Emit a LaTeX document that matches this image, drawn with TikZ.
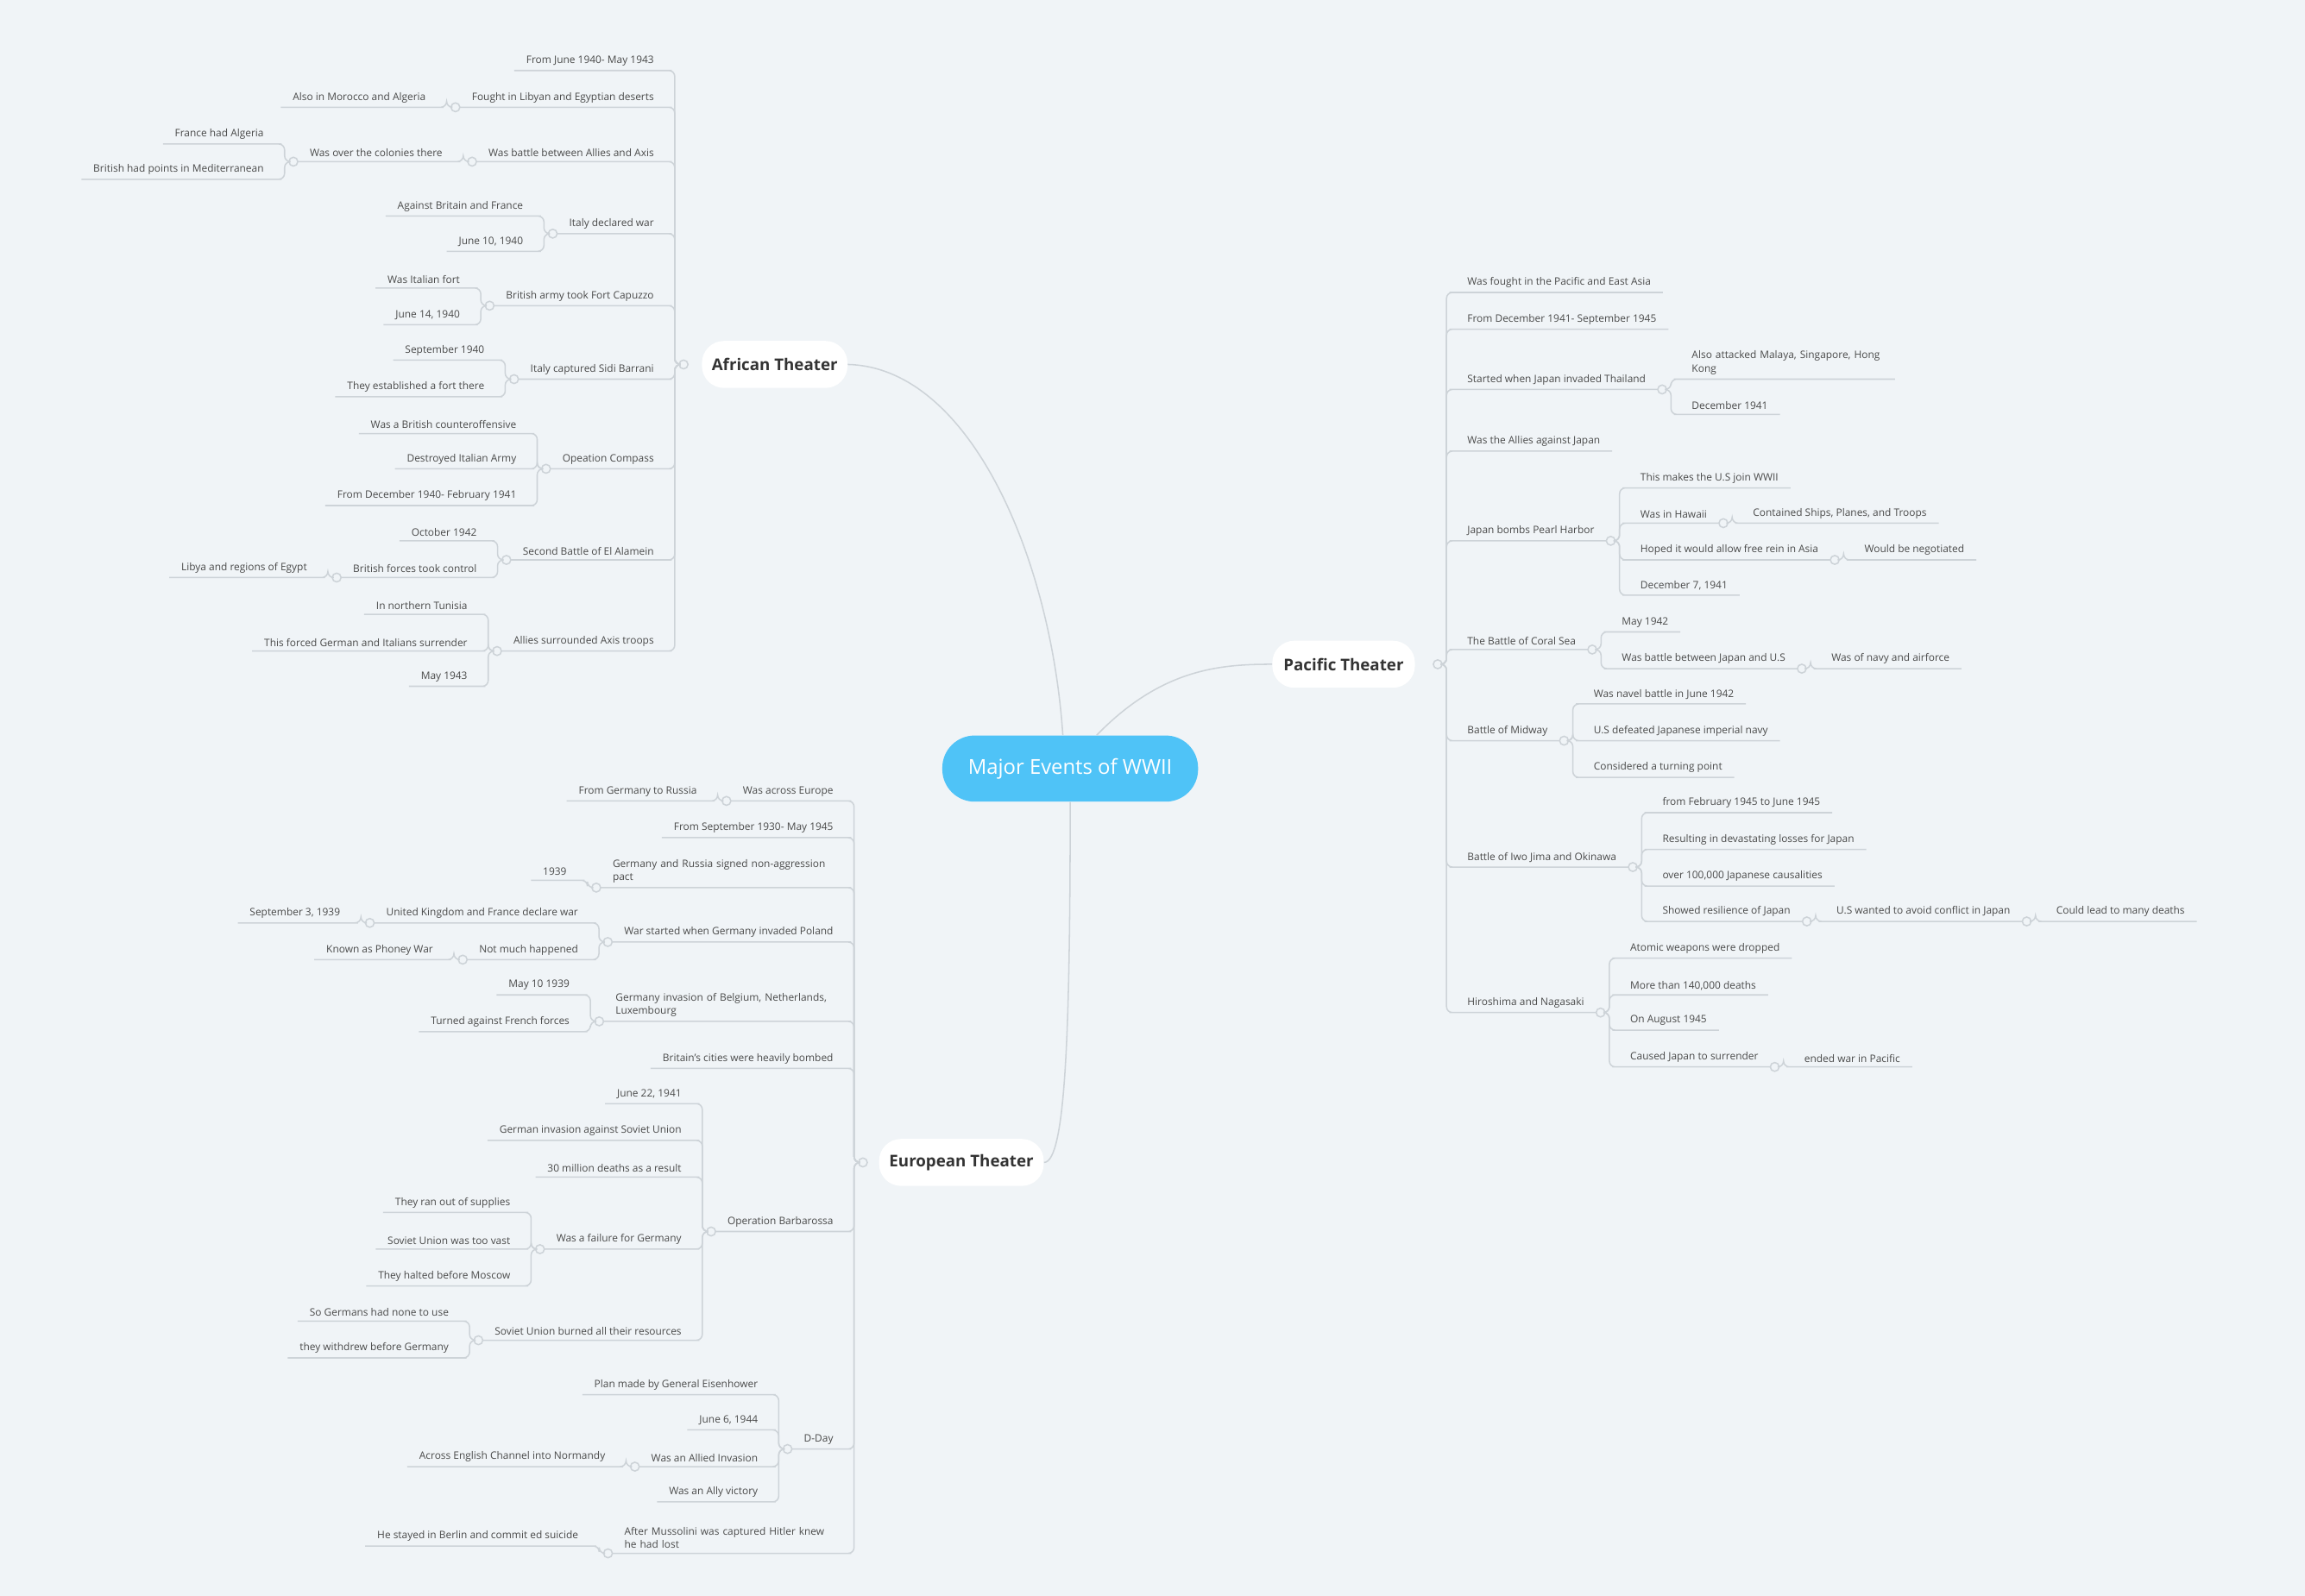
\documentclass[tikz,border=0pt]{standalone}
\usepackage{fontspec}
\setmainfont{Open Sans}
\definecolor{bgc}{HTML}{F0F4F7}
\definecolor{lnc}{HTML}{CDD3D8}
\definecolor{txc}{HTML}{4A4A4A}
\definecolor{rootblue}{HTML}{4FC3F7}
\tikzset{
 lt/.style={font=\fontsize{7}{9}\selectfont, text=txc, inner xsep=8pt, inner ysep=3pt},
 ln/.style={draw=lnc, line width=0.9pt},
 dot/.style={circle, draw=lnc, fill=bgc, line width=0.9pt, inner sep=0pt, minimum size=6pt},
 pill/.style={fill=white, rounded corners=15pt, font=\bfseries\fontsize{11}{13}\selectfont, text=black!80, minimum height=32pt},
 ml/.style={text width=#1, align=left}
}
\newcommand\LK[5][]{%
 \node[lt,anchor=south east,xshift=-12pt,#1] (#2) at (#3 |- 0,#4+10) {#5};
 \draw[ln,rounded corners=4pt] (#2.south west) -- (#2.south east) -- ++(6,0) |- (#3);}
\newcommand\RK[5][]{%
 \node[lt,anchor=south west,xshift=12pt,#1] (#2) at (#3 |- 0,#4+10) {#5};
 \draw[ln,rounded corners=4pt] (#2.south east) -- (#2.south west) -- ++(-6,0) |- (#3);}
\newcommand\LD[2]{\node[dot] (#2) at ([xshift=-3pt]#1.south west) {};}
\newcommand\RD[2]{\node[dot] (#2) at ([xshift=3pt]#1.south east) {};}
\begin{document}
\begin{tikzpicture}[x=1pt,y=-1pt]
\fill[bgc] (0,0) rectangle (1568,1086);
\useasboundingbox (0,0) rectangle (1568,1086);
\node[fill=rootblue, rounded corners=22pt, minimum width=174pt, minimum height=45pt, text=white, font=\fontsize{14}{16}\selectfont] (root) at (728,523) {Major Events of WWII};
\node[pill, minimum width=99pt] (af) at (527,248) {African Theater};
\node[pill, minimum width=97pt] (pac) at (914,452) {Pacific Theater};
\node[pill, minimum width=112pt] (eu) at (654,791) {European Theater};
\draw[ln] ([xshift=-5pt]root.north) .. controls (715,380) and (660,250) .. (af.east);
\draw[ln] ([xshift=18pt]root.north) .. controls (790,455) and (830,452) .. (pac.west);
\draw[ln] (root.south) .. controls (728,700) and (725,791) .. (eu.east);
\node[dot] (afc) at (465,248) {};
\node[dot] (pacc) at (978,452) {};
\node[dot] (euc) at (587,791) {};
% African
\LK{a1}{afc}{38}{From June 1940- May 1943}
\LK{a2}{afc}{63}{Fought in Libyan and Egyptian deserts}\LD{a2}{a2c}
\LK{a21}{a2c}{63}{Also in Morocco and Algeria}
\LK{a3}{afc}{100}{Was battle between Allies and Axis}\LD{a3}{a3c}
\LK{a31}{a3c}{100}{Was over the colonies there}\LD{a31}{a31c}
\LK{a311}{a31c}{88}{France had Algeria}
\LK{a312}{a31c}{112}{British had points in Mediterranean}
\LK{a4}{afc}{149}{Italy declared war}\LD{a4}{a4c}
\LK{a41}{a4c}{137}{Against Britain and France}
\LK{a42}{a4c}{161}{June 10, 1940}
\LK{a5}{afc}{198}{British army took Fort Capuzzo}\LD{a5}{a5c}
\LK{a51}{a5c}{186}{Was Italian fort}
\LK{a52}{a5c}{211}{June 14, 1940}
\LK{a6}{afc}{248}{Italy captured Sidi Barrani}\LD{a6}{a6c}
\LK{a61}{a6c}{235}{September 1940}
\LK{a62}{a6c}{260}{They established a fort there}
\LK{a7}{afc}{309}{Opeation Compass}\LD{a7}{a7c}
\LK{a71}{a7c}{285}{Was a British counteroffensive}
\LK{a72}{a7c}{309}{Destroyed Italian Army}
\LK{a73}{a7c}{334}{From December 1940- February 1941}
\LK{a8}{afc}{371}{Second Battle of El Alamein}\LD{a8}{a8c}
\LK{a81}{a8c}{358}{October 1942}
\LK{a82}{a8c}{383}{British forces took control}\LD{a82}{a82c}
\LK{a821}{a82c}{383}{Libya and regions of Egypt}
\LK{a9}{afc}{433}{Allies surrounded Axis troops}\LD{a9}{a9c}
\LK{a91}{a9c}{408}{In northern Tunisia}
\LK{a92}{a9c}{433}{This forced German and Italians surrender}
\LK{a93}{a9c}{457}{May 1943}
% Pacific
\RK{p1}{pacc}{189}{Was fought in the Pacific and East Asia}
\RK{p2}{pacc}{214}{From December 1941- September 1945}
\RK{p3}{pacc}{255}{Started when Japan invaded Thailand}\RD{p3}{p3c}
\RK[ml=130pt]{p31}{p3c}{248}{Also attacked Malaya, Singapore, Hong Kong}
\RK{p32}{p3c}{272}{December 1941}
\RK{p4}{pacc}{297}{Was the Allies against Japan}
\RK{p5}{pacc}{358}{Japan bombs Pearl Harbor}\RD{p5}{p5c}
\RK{p51}{p5c}{322}{This makes the U.S join WWII}
\RK{p52}{p5c}{346}{Was in Hawaii}\RD{p52}{p52c}
\RK{p521}{p52c}{346}{Contained Ships, Planes, and Troops}
\RK{p53}{p5c}{371}{Hoped it would allow free rein in Asia}\RD{p53}{p53c}
\RK{p531}{p53c}{371}{Would be negotiated}
\RK{p54}{p5c}{395}{December 7, 1941}
\RK{p6}{pacc}{432}{The Battle of Coral Sea}\RD{p6}{p6c}
\RK{p61}{p6c}{420}{May 1942}
\RK{p62}{p6c}{445}{Was battle between Japan and U.S}\RD{p62}{p62c}
\RK{p621}{p62c}{445}{Was of navy and airforce}
\RK{p7}{pacc}{494}{Battle of Midway}\RD{p7}{p7c}
\RK{p71}{p7c}{469}{Was navel battle in June 1942}
\RK{p72}{p7c}{494}{U.S defeated Japanese imperial navy}
\RK{p73}{p7c}{519}{Considered a turning point}
\RK{p8}{pacc}{580}{Battle of Iwo Jima and Okinawa}\RD{p8}{p8c}
\RK{p81}{p8c}{543}{from February 1945 to June 1945}
\RK{p82}{p8c}{568}{Resulting in devastating losses for Japan}
\RK{p83}{p8c}{593}{over 100,000 Japanese causalities}
\RK{p84}{p8c}{617}{Showed resilience of Japan}\RD{p84}{p84c}
\RK{p841}{p84c}{617}{U.S wanted to avoid conflict in Japan}\RD{p841}{p841c}
\RK{p8411}{p841c}{617}{Could lead to many deaths}
\RK{p9}{pacc}{679}{Hiroshima and Nagasaki}\RD{p9}{p9c}
\RK{p91}{p9c}{642}{Atomic weapons were dropped}
\RK{p92}{p9c}{667}{More than 140,000 deaths}
\RK{p93}{p9c}{691}{On August 1945}
\RK{p94}{p9c}{716}{Caused Japan to surrender}\RD{p94}{p94c}
\RK{p941}{p94c}{716}{ended war in Pacific}
% European
\LK{e1}{euc}{535}{Was across Europe}\LD{e1}{e1c}
\LK{e11}{e1c}{535}{From Germany to Russia}
\LK{e2}{euc}{560}{From September 1930- May 1945}
\LK[ml=150pt]{e3}{euc}{594}{Germany and Russia signed non-aggression pact}\LD{e3}{e3c}
\LK{e31}{e3c}{589}{1939}
\LK{e4}{euc}{631}{War started when Germany invaded Poland}\LD{e4}{e4c}
\LK{e41}{e4c}{618}{United Kingdom and France declare war}\LD{e41}{e41c}
\LK{e411}{e41c}{618}{September 3, 1939}
\LK{e42}{e4c}{643}{Not much happened}\LD{e42}{e42c}
\LK{e421}{e42c}{643}{Known as Phoney War}
\LK[ml=148pt]{e5}{euc}{685}{Germany invasion of Belgium, Netherlands, Luxembourg}\LD{e5}{e5c}
\LK{e51}{e5c}{667}{May 10 1939}
\LK{e52}{e5c}{692}{Turned against French forces}
\LK{e6}{euc}{717}{Britain's cities were heavily bombed}
\LK{e7}{euc}{828}{Operation Barbarossa}\LD{e7}{e7c}
\LK{e71}{e7c}{741}{June 22, 1941}
\LK{e72}{e7c}{766}{German invasion against Soviet Union}
\LK{e73}{e7c}{791}{30 million deaths as a result}
\LK{e74}{e7c}{840}{Was a failure for Germany}\LD{e74}{e74c}
\LK{e741}{e74c}{815}{They ran out of supplies}
\LK{e742}{e74c}{840}{Soviet Union was too vast}
\LK{e743}{e74c}{865}{They halted before Moscow}
\LK{e75}{e7c}{902}{Soviet Union burned all their resources}\LD{e75}{e75c}
\LK{e751}{e75c}{889}{So Germans had none to use}
\LK{e752}{e75c}{914}{they withdrew before Germany}
\LK{e8}{euc}{976}{D-Day}\LD{e8}{e8c}
\LK{e81}{e8c}{939}{Plan made by General Eisenhower}
\LK{e82}{e8c}{963}{June 6, 1944}
\LK{e83}{e8c}{988}{Was an Allied Invasion}\LD{e83}{e83c}
\LK{e831}{e83c}{988}{Across English Channel into Normandy}
\LK{e84}{e8c}{1012}{Was an Ally victory}
\LK[ml=142pt]{e9}{euc}{1047}{After Mussolini was captured Hitler knew he had lost}\LD{e9}{e9c}
\LK{e91}{e9c}{1042}{He stayed in Berlin and commit ed suicide}
\end{tikzpicture}
\end{document}
